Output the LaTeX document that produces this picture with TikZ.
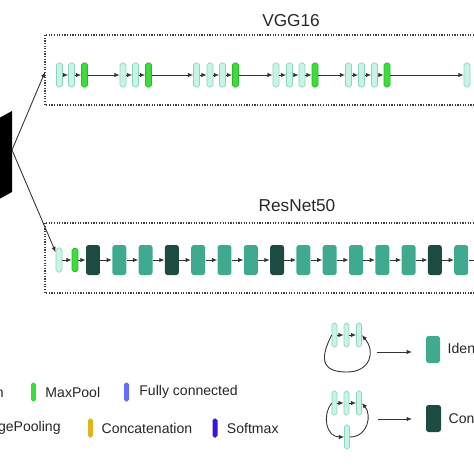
\documentclass[tikz,border=0pt]{standalone}
\usepackage{fontspec}
\setmainfont{Liberation Sans}
\usetikzlibrary{arrows.meta,positioning}

\definecolor{convcol}{HTML}{C8F4E6}
\definecolor{convline}{HTML}{8CD5BE}
\definecolor{poolcol}{HTML}{3CDC3C}
\definecolor{poolline}{HTML}{2CB82C}
\definecolor{idcol}{HTML}{40AA91}
\definecolor{cbcol}{HTML}{1D4A41}
\definecolor{fccol}{HTML}{6470EE}
\definecolor{catcol}{HTML}{E0B41A}
\definecolor{smcol}{HTML}{3A14DC}

\tikzset{
 conv/.style={draw=convline, fill=convcol, rounded corners=1pt, minimum width=0.12cm, minimum height=0.48cm, inner sep=0pt, line width=0.4pt},
 pool/.style={conv, draw=poolline, fill=poolcol},
 idblock/.style={fill=idcol, rounded corners=1.5pt, minimum width=0.28cm, minimum height=0.6cm, inner sep=0pt},
 convblock/.style={idblock, fill=cbcol},
 link/.style={draw=black!80, line width=0.5pt, -{Latex[length=3pt,width=2.5pt]}},
 frame/.style={draw=black!75, line width=0.7pt, dash pattern=on 0.7pt off 0.8pt},
 swatch/.style={rounded corners=1pt, minimum width=0.1cm, minimum height=0.38cm, inner sep=0pt},
 legtext/.style={font=\fontsize{8}{9}\selectfont, inner sep=0pt, text=black!85},
}

\begin{document}
\begin{tikzpicture}[x=0.02cm, y=-0.02cm]
\useasboundingbox (0,0) rectangle (474,474);
\clip (0,0) rectangle (474,474);

% input image
\fill[black] (-10,123) -- (12,111) -- (12,192) -- (-10,204) -- cycle;
\coordinate (img) at (12,150);

% VGG16
\draw[frame] (45,35) rectangle (490,105);
\node[font=\fontsize{9.8}{11}\selectfont, text=black!85] (vggtitle) at (291,21) {VGG16};
\coordinate (vggin) at (45,72);
\draw[link] (img) -- (vggin);

\foreach \x/\s [count=\i] in {59.5/conv, 71.5/conv, 84.5/pool,
	123/conv, 135.5/conv, 148.5/pool,
	196.5/conv, 210/conv, 222.5/conv, 235.5/pool,
	276/conv, 289.5/conv, 302/conv, 315/pool,
	348.5/conv, 361.5/conv, 374.5/conv, 387/pool,
	467/conv}
	\node[\s] (v\i) at (\x,75) {};
\foreach \i [count=\j from 2] in {1,...,18}
	\draw[link] (v\i) -- (v\j);

% ResNet50
\draw[frame] (45,223) rectangle (490,293);
\node[font=\fontsize{9.8}{11}\selectfont, text=black!85] (restitle) at (297,206) {ResNet50};
\node[conv] (r1) at (59,260) {};
\node[pool, minimum height=0.46cm] (r2) at (75,260) {};
\foreach \s [count=\i from 3] in {convblock, idblock, idblock,
	convblock, idblock, idblock, idblock,
	convblock, idblock, idblock, idblock, idblock, idblock,
	convblock, idblock}
	\node[\s] (r\i) at ({93+(\i-3)*26.3},260) {};
\coordinate (rout) at (485,260);
\draw[link] (img) -- (r1);
\foreach \i [count=\j from 2] in {1,...,16}
	\draw[link] (r\i) -- (r\j);
\draw[link] (r17) -- (rout);

% legend
\node[legtext, anchor=east] (convtxt) at (4,392) {Convolution};
\node[swatch, fill=poolcol] (mpsw) at (33.5,392) {};
\node[legtext, right=5pt of mpsw] (mptxt) {MaxPool};
\node[swatch, fill=fccol] (fcsw) at (126.5,392) {};
\node[legtext, right=5.5pt of fcsw] (fctxt) {Fully connected};
\node[legtext, anchor=east] (gaptxt) at (61,428) {GlobalAveragePooling};
\node[swatch, fill=catcol] (catsw) at (90.5,428) {};
\node[legtext, right=4.5pt of catsw] (cattxt) {Concatenation};
\node[swatch, fill=smcol] (smsw) at (215,428) {};
\node[legtext, right=5pt of smsw] (smtxt) {Softmax};

% identity block
\node[conv, minimum width=0.1cm] (ia) at (334.5,335) {};
\node[conv, minimum width=0.1cm] (ib) at (346.5,335) {};
\node[conv, minimum width=0.1cm] (ic) at (359,335) {};
\draw[link] (ia) -- (ib);
\draw[link] (ib) -- (ic);
\draw[link] (ia.west) .. controls (318,362) and (324,372) .. (347,372) .. controls (370,372) and (376,352) .. (ic.east);
\coordinate (ida) at (377,352);
\coordinate (idb) at (412,352);
\draw[link] (ida) -- (idb);
\node[idblock, minimum height=0.54cm] (idsw) at (433,349.5) {};
\node[legtext, right=4pt of idsw] (idtxt) {Identity block};

% convolution block
\node[conv, minimum width=0.1cm] (ca) at (334.5,403) {};
\node[conv, minimum width=0.1cm] (cb) at (346.5,403) {};
\node[conv, minimum width=0.1cm] (cc) at (359,403) {};
\node[conv, minimum width=0.1cm] (cd) at (347,437) {};
\draw[link] (ca) -- (cb);
\draw[link] (cb) -- (cc);
\draw[link] (ca.west) .. controls (322,415) and (326,437) .. (cd.west);
\draw[link] (cd.east) .. controls (368,437) and (372,415) .. (cc.east);
\coordinate (cba) at (378,419);
\coordinate (cbb) at (412,419);
\draw[link] (cba) -- (cbb);
\node[convblock, minimum width=0.3cm, minimum height=0.54cm] (cbsw) at (433.5,418.5) {};
\node[legtext, right=4pt of cbsw] (cbtxt) {Convolution block};
\end{tikzpicture}
\end{document}
